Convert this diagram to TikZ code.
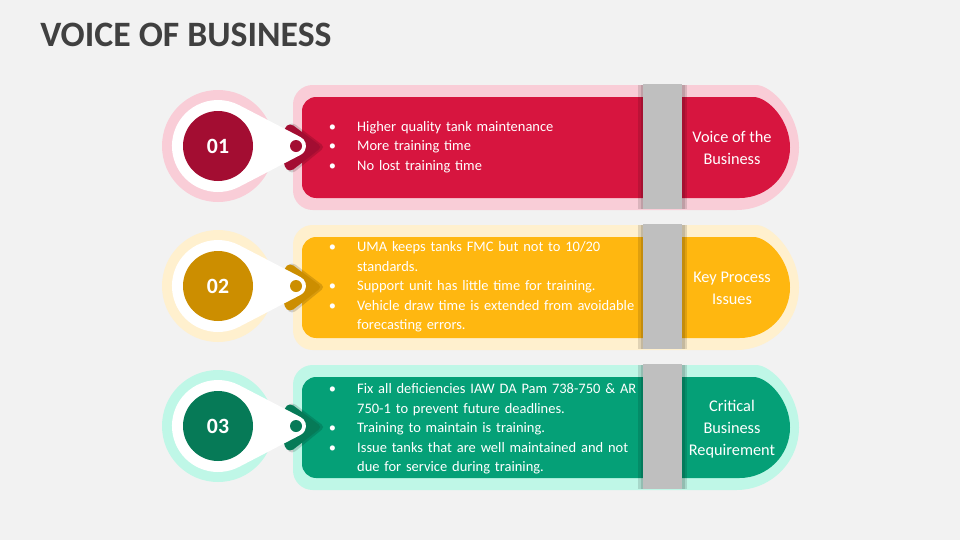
\documentclass[tikz,border=0pt]{standalone}
\usepackage{fontspec}
\setmainfont{Carlito}
\usepackage{tikz}
\usetikzlibrary{positioning}

\definecolor{bgGray}{HTML}{F2F2F2}
\definecolor{titleGray}{HTML}{404040}
\definecolor{barGray}{HTML}{BFBFBF}
\definecolor{redMain}{HTML}{D7153F}
\definecolor{redDark}{HTML}{A30D32}
\definecolor{redPale}{HTML}{F9CDD7}
\definecolor{ambMain}{HTML}{FFB710}
\definecolor{ambDark}{HTML}{CC8E00}
\definecolor{ambPale}{HTML}{FFF0CE}
\definecolor{grnMain}{HTML}{05A077}
\definecolor{grnDark}{HTML}{067A57}
\definecolor{grnPale}{HTML}{BFF7E7}

\newcommand\vobitem{\par\hangindent=20.2pt\hangafter=1\noindent\makebox[20.2pt][l]{\textbullet}}

\begin{document}
\begin{tikzpicture}[x=0.025cm,y=-0.025cm]
  \tikzset{
    title/.style={font=\fontsize{25.4}{30}\selectfont\bfseries, text=titleGray, inner sep=0pt},
    numtxt/.style={font=\fontsize{15.5}{18}\selectfont\bfseries, text=white},
    blist/.style={font=\fontsize{10.3}{13.8}\selectfont, text=white, inner sep=0pt,
      text width=300pt, execute at begin node=\raggedright},
    tag/.style={font=\fontsize{11.6}{15.6}\selectfont, text=white, align=center, inner sep=0pt}
  }

  % page
  \fill[bgGray] (0,0) rectangle (960,540);
  \useasboundingbox (0,0) rectangle (960,540);

  \node[title, anchor=base west] (head) at (40,46) {VOICE OF BUSINESS};

  % ================= ROWS (shapes) =================
  \foreach \r/\dk/\mn/\pl/\num in {0/redDark/redMain/redPale/01,
                                   1/ambDark/ambMain/ambPale/02,
                                   2/grnDark/grnMain/grnPale/03}{
    \begin{scope}[shift={(0,140*\r)}]
      % band
      \fill[\pl] (736.5,85) arc[start angle=-90, end angle=90, radius=62.5]
        [rounded corners=14] -- (293,210) -- (293,85) -- cycle;
      \fill[\mn] (739.5,97) arc[start angle=-90, end angle=90, radius=50.5]
        [rounded corners=10] -- (302,198) -- (302,97) -- cycle;
      % divider
      \fill[black, opacity=.12] (638,85) rectangle (687,209);
      \fill[black, opacity=.12] (640.5,85) rectangle (684.5,209);
      \fill[barGray] (643,84) rectangle (682,209);
      % badge
      \fill[\pl] (218,146) circle (56);
      \fill[black, opacity=.15, rounded corners=3] (286,127) -- (292,122) -- (325,147) -- (292,174)
        -- (286,169) -- (286,158) -- (304,147) -- (286,136) -- cycle;
      \fill[\dk, rounded corners=3] (284,128) -- (290,123) -- (322,147) -- (290,172)
        -- (284,167) -- (284,158) -- (302,147) -- (284,136) -- cycle;
      \fill[white] (239.2,105.2) -- (300.6,137.1)
        arc[start angle=-62.5, end angle=62.5, radius=10] -- (239.2,186.8)
        arc[start angle=62.5, end angle=297.5, radius=46] -- cycle;
      \fill[\dk] (296,146) circle (6);
      \node[numtxt, circle, fill=\dk, minimum size=70*0.025cm] (num\r) at (218,146) {\num};
    \end{scope}
  }

  % ================= ROW TEXTS =================
  \node[blist, anchor=base west] (list1) at (328.5,112) {%
    \vobitem Higher quality tank maintenance
    \vobitem More training time
    \vobitem No lost training time\par};
  \node[tag] (tag1) at (732,148) {Voice of the\\Business};

  \node[blist, anchor=base west] (list2) at (328.5,232.5) {%
    \vobitem UMA keeps tanks FMC but not to 10/20\newline standards.
    \vobitem Support unit has little time for training.
    \vobitem Vehicle draw time is extended from avoidable\newline forecasting errors.\par};
  \node[tag] (tag2) at (732,288) {Key Process\\Issues};

  \node[blist, anchor=base west] (list3) at (328.5,374.5) {%
    \vobitem Fix all deficiencies IAW DA Pam 738-750 \& AR\newline 750-1 to prevent future deadlines.
    \vobitem Training to maintain is training.
    \vobitem Issue tanks that are well maintained and not\newline due for service during training.\par};
  \node[tag] (tag3) at (732,429) {Critical\\Business\\Requirement};

\end{tikzpicture}
\end{document}
